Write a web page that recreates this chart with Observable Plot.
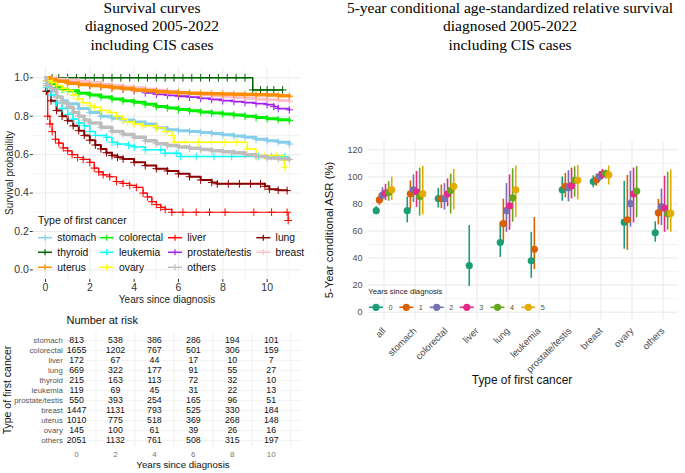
<!DOCTYPE html>
<html><head><meta charset="utf-8">
<script src="https://cdn.jsdelivr.net/npm/d3@7"></script>
<script src="https://cdn.jsdelivr.net/npm/@observablehq/plot@0.6"></script>
<style>
body{margin:0;background:#fff;}
#root{position:relative;width:685px;height:473px;overflow:hidden;background:#fff;font-family:'Liberation Sans',Arial,sans-serif;}
.title{position:absolute;font-family:'Liberation Serif','Times New Roman',serif;font-size:15.5px;line-height:18.4px;text-align:center;color:#000;transform:translateX(-50%);white-space:nowrap;}
</style></head><body><div id="root"></div>
<script>
// ---------------- DATA ----------------
// Left: Kaplan-Meier style survival curves, [years, survival probability]
const stomachCurve = [[0,1],[0.05,0.97],[0.25,0.93],[0.5,0.9],[0.75,0.88],[1,0.865],[1.5,0.84],[2,0.82],[2.5,0.8],[3,0.79],[3.5,0.78],[4,0.77],[4.5,0.76],[5,0.74],[5.5,0.73],[6,0.725],[6.5,0.72],[7,0.715],[7.5,0.71],[8,0.703],[8.5,0.697],[9,0.69],[9.5,0.68],[10,0.672],[10.5,0.665],[11,0.655]];
const colorectalCurve = [[0,1],[0.05,0.985],[0.25,0.965],[0.5,0.95],[0.75,0.94],[1,0.933],[1.5,0.92],[2,0.91],[2.5,0.9],[3,0.89],[3.5,0.88],[4,0.873],[4.5,0.862],[5,0.85],[5.5,0.843],[6,0.835],[6.5,0.828],[7,0.822],[7.5,0.817],[8,0.812],[8.5,0.806],[9,0.8],[9.5,0.793],[10,0.787],[10.5,0.782],[11,0.778]];
const liverCurve = [[0,1],[0.03,0.93],[0.1,0.8],[0.2,0.76],[0.3,0.72],[0.45,0.68],[0.6,0.66],[0.8,0.635],[1,0.62],[1.2,0.6],[1.45,0.585],[1.7,0.575],[2,0.56],[2.2,0.53],[2.4,0.51],[2.6,0.495],[2.9,0.485],[3.2,0.46],[3.5,0.45],[3.8,0.44],[4.1,0.43],[4.4,0.4],[4.6,0.38],[4.8,0.355],[5,0.34],[5.2,0.325],[5.4,0.315],[5.7,0.3],[6.2,0.3],[6.8,0.3],[7.4,0.3],[8.1,0.3],[9.4,0.3],[10.2,0.3],[10.9,0.3],[10.95,0.257]];
const lungCurve = [[0,1],[0.05,0.93],[0.25,0.88],[0.5,0.83],[0.75,0.8],[1,0.777],[1.25,0.75],[1.5,0.725],[1.75,0.7],[2,0.675],[2.25,0.65],[2.5,0.63],[2.75,0.61],[3,0.595],[3.25,0.586],[3.5,0.577],[4,0.56],[4.5,0.543],[5,0.527],[5.5,0.515],[6,0.5],[6.5,0.485],[7,0.468],[7.5,0.455],[7.75,0.448],[8.25,0.448],[8.75,0.448],[9.25,0.448],[9.7,0.448],[9.9,0.435],[10.1,0.42],[10.5,0.415],[10.9,0.413]];
const thyroidCurve = [[0,1],[0.3,1],[0.6,1],[1,1],[1.4,1],[1.8,1],[2.2,1],[2.6,1],[3,1],[3.4,1],[3.8,1],[4.2,1],[4.6,1],[5,1],[5.4,1],[5.8,1],[6.2,1],[6.6,1],[7,1],[7.4,1],[7.8,1],[8.2,1],[8.6,1],[9,1],[9.35,0.937],[9.7,0.937],[10,0.937],[10.3,0.937],[10.7,0.937]];
const leukemiaCurve = [[0,1],[0.05,0.95],[0.25,0.91],[0.5,0.87],[0.75,0.84],[1,0.81],[1.25,0.785],[1.5,0.765],[1.75,0.75],[2,0.72],[2.25,0.7],[2.75,0.69],[3,0.665],[3.25,0.655],[3.75,0.648],[4,0.64],[4.5,0.625],[5.2,0.625],[5.4,0.607],[5.9,0.607],[6.1,0.59],[6.8,0.59],[7.6,0.59],[8.4,0.59],[9.6,0.59],[10.2,0.59],[10.8,0.59]];
const prostateCurve = [[0,1],[0.5,0.988],[1,0.976],[1.5,0.968],[2,0.961],[2.5,0.955],[3,0.948],[3.5,0.941],[4,0.933],[4.5,0.922],[5,0.914],[5.5,0.909],[6,0.904],[6.5,0.899],[7,0.893],[7.5,0.887],[8,0.881],[8.5,0.876],[9,0.871],[9.5,0.866],[10,0.86],[10.3,0.85],[10.5,0.84],[11,0.833]];
const breastCurve = [[0,1],[0.5,0.993],[1,0.988],[1.5,0.982],[2,0.975],[2.5,0.967],[3,0.96],[3.5,0.954],[4,0.948],[4.5,0.941],[5,0.935],[5.5,0.929],[6,0.923],[6.5,0.917],[7,0.912],[7.5,0.907],[8,0.902],[8.5,0.897],[9,0.893],[9.5,0.889],[10,0.886],[10.5,0.882],[11,0.878]];
const uterusCurve = [[0,1],[0.25,0.99],[0.5,0.982],[1,0.972],[1.5,0.965],[2,0.96],[2.5,0.955],[3,0.948],[3.5,0.943],[4,0.937],[4.5,0.932],[5,0.928],[5.5,0.925],[6,0.922],[6.5,0.92],[7,0.918],[7.5,0.917],[8,0.916],[8.5,0.915],[9,0.913],[9.5,0.912],[10,0.91],[10.5,0.907],[11,0.904]];
const ovaryCurve = [[0,1],[0.1,0.985],[0.3,0.975],[0.5,0.96],[0.75,0.945],[1,0.934],[1.25,0.91],[1.45,0.89],[1.7,0.87],[2,0.855],[2.2,0.847],[2.5,0.83],[2.9,0.82],[3.2,0.8],[3.5,0.785],[3.7,0.77],[4,0.76],[4.4,0.75],[5,0.74],[5.4,0.72],[5.7,0.7],[5.8,0.665],[6.3,0.665],[6.9,0.665],[7.5,0.665],[8.1,0.665],[8.6,0.665],[9.1,0.63],[9.5,0.595],[9.9,0.595],[10.4,0.595],[10.75,0.57],[10.8,0.534]];
const othersCurve = [[0,1],[0.05,0.96],[0.25,0.94],[0.5,0.9],[0.75,0.87],[1,0.847],[1.25,0.82],[1.5,0.8],[1.75,0.78],[2,0.765],[2.5,0.743],[3,0.72],[3.5,0.705],[4,0.69],[4.5,0.672],[5,0.657],[5.5,0.647],[6,0.64],[6.5,0.633],[7,0.627],[7.5,0.62],[8,0.615],[8.5,0.61],[9,0.6],[9.5,0.59],[10,0.583],[10.5,0.578],[11,0.575]];

const cancerNames = ["stomach","colorectal","liver","lung","thyroid","leukemia","prostate/testis","breast","uterus","ovary","others"];
const cancerCurves = [stomachCurve,colorectalCurve,liverCurve,lungCurve,thyroidCurve,leukemiaCurve,prostateCurve,breastCurve,uterusCurve,ovaryCurve,othersCurve];
const cancerColors = ["#87CEEB","#00EE00","#FF0000","#8B0000","#006400","#00FFFF","#A020F0","#FFC0CB","#FF8C00","#FFFF00","#BEBEBE"];
const survXTicks = [0,2,4,6,8,10];
const survYTicks = [0,0.2,0.4,0.6,0.8,1.0];

// Number at risk table
const riskTimes = [0,2,4,6,8,10];
const riskCounts = [
  [813,538,386,286,194,101],
  [1655,1202,767,501,306,159],
  [172,67,44,17,10,7],
  [669,322,177,91,55,27],
  [215,163,113,72,32,10],
  [119,69,45,31,22,13],
  [550,393,254,165,96,51],
  [1447,1131,793,525,330,184],
  [1010,775,518,369,268,148],
  [145,100,61,39,26,16],
  [2051,1132,761,508,315,197]
];

// Right: 5-year conditional ASR (%) by years since diagnosis (rows 0..5) and category (cols)
const asrCategories = ["all","stomach","colorectal","liver","lung","leukemia","prostate/testis","breast","ovary","others"];
const asrYears = [0,1,2,3,4,5];
const asrEst = [
  [75, 75, 84, 34.5, 51.5, 38, 90.5, 96.5, 66.5, 58.7],
  [83, 87.5, 84, null, 65.5, 46.5, 93, 97.8, 68.3, 73.5],
  [86.5, 90.5, 84, null, 75, null, 92, 100.2, 80.2, 78],
  [88, 89, 87.5, null, 78.5, null, 93.5, 102, 87.5, 77],
  [88.5, 85.5, 90, null, 84.5, null, 97.5, 102.5, 89.5, 72.7],
  [90.5, 87.5, 93, null, 90.5, null, 97.5, 101.5, null, 73]
];
const asrLow = [
  [72, 66, 77, 19, 40.5, 25, 82, 92, 46.5, 51.7],
  [79, 76, 76.5, null, 51.5, 31.5, 84.5, 93, 45.7, 64.5],
  [82, 81, 75.5, null, 59, null, 81.5, 96, 62.8, 64],
  [82.5, 77.5, 78, null, 60.5, null, 83.8, 98, 66, 59],
  [82, 71, 72.5, null, 66.5, null, 85, 98.5, 69.7, 60.6],
  [82.5, 72, 75.5, null, 70, null, 83, 94, null, 59]
];
const asrHigh = [
  [78, 85, 91.5, 64, 66.5, 59, 100, 100.8, 96.7, 66.8],
  [87, 97, 94, null, 83.5, 70, 102.5, 102, 101, 83.3],
  [92, 101.5, 95, null, 95, null, 104.5, 104, 104.2, 91],
  [94.5, 104, 98.5, null, 101.5, null, 106.4, 105.5, 106.5, 100.5],
  [96.5, 106.5, 102, null, 106, null, 107.5, 105, 107.7, 103.4],
  [99.8, 107.8, 105.5, null, 108, null, 108.5, 108, null, 105.2]
];
const asrYTicks = [0,20,40,60,80,100,120];
const asrYMinor = [10,30,50,70,90,110];
const dark2 = ["#1B9E77","#D95F02","#7570B3","#E7298A","#66A61E","#E6AB02"];

// ---------------- HELPERS ----------------
const root = document.getElementById("root");
const FONT = "'Liberation Sans', Arial, sans-serif";
function put(node, left, top) {
  node.style.position = "absolute"; node.style.left = left + "px"; node.style.top = top + "px";
  root.appendChild(node);
}
function txt(s, x, y, {size=10, color="#222", rot=0, anchor="middle"} = {}) {
  const d = document.createElement("div");
  d.textContent = s;
  d.style.position = "absolute";
  d.style.left = x + "px"; d.style.top = y + "px";
  d.style.fontSize = size + "px"; d.style.color = color;
  d.style.whiteSpace = "nowrap"; d.style.lineHeight = "1";
  d.style.fontFamily = FONT;
  const tx = anchor === "start" ? "0" : anchor === "end" ? "-100%" : "-50%";
  d.style.transform = `translate(${tx},-50%)` + (rot ? ` rotate(${rot}deg)` : "");
  root.appendChild(d);
}
function title(lines, cx) {
  const d = document.createElement("div");
  d.className = "title";
  d.innerHTML = lines.join("<br>");
  d.style.left = cx + "px"; d.style.top = "-1px";
  root.appendChild(d);
}

// ---------------- TITLES ----------------
title(["Survival curves","diagnosed 2005-2022","including CIS cases"], 152);
title(["5-year conditional age-standardized relative survival","diagnosed 2005-2022","including CIS cases"], 510);

// ---------------- LEFT: SURVIVAL CURVES ----------------
const survRows = cancerNames.flatMap((name, i) => cancerCurves[i].map(([t, s]) => ({cancer: name, t, s})));
const lineW = {"stomach":3,"colorectal":3,"liver":1.2,"lung":2,"thyroid":1.5,"leukemia":1.5,"prostate/testis":1.8,"breast":3,"uterus":3.5,"ovary":1.5,"others":3.5};
const survMarks = [
  Plot.ruleX([1,3,5,7,9,11], {stroke:"#ebebeb", strokeWidth:0.6}),
  Plot.ruleX(survXTicks, {stroke:"#ebebeb", strokeWidth:1}),
  Plot.ruleY([0.1,0.3,0.5,0.7,0.9], {stroke:"#ebebeb", strokeWidth:0.6}),
  Plot.ruleY(survYTicks, {stroke:"#ebebeb", strokeWidth:1}),
];
for (const name of cancerNames) {
  const rows = survRows.filter(d => d.cancer === name);
  survMarks.push(Plot.line(rows, {x:"t", y:"s", stroke:"cancer", curve:"step-after", strokeWidth: lineW[name]}));
  survMarks.push(Plot.dot(rows.slice(1), {x:"t", y:"s", stroke:"cancer", symbol:"plus", r:2.6, strokeWidth:1}));
}
survMarks.push(Plot.axisX(survXTicks, {tickSize:3, tickPadding:1.5, fontSize:10.5, color:"#333", label:null}));
survMarks.push(Plot.axisY(survYTicks, {tickSize:3, tickPadding:1.5, fontSize:10.5, color:"#333", label:null, tickFormat: d3.format(".1f")}));
const surv = Plot.plot({
  width: 335, height: 250,
  marginLeft: 32.8, marginRight: 34, marginTop: 7.7, marginBottom: 31,
  x: {domain: [-0.55, 11.55]},
  y: {domain: [-0.05, 1.05]},
  color: {domain: cancerNames, range: cancerColors},
  style: {fontFamily: FONT, background: "transparent", overflow: "visible"},
  marks: survMarks
});
put(surv, 0, 60);
txt("Survival probability", 10, 173.4, {size:10, rot:-90});
txt("Years since diagnosis", 167, 300, {size:10});

// ---------------- LEFT: NUMBER AT RISK ----------------
const riskRows = cancerNames.flatMap((name, i) => riskTimes.map((t, j) => ({cancer: name, t, n: riskCounts[i][j]})));
const risk = Plot.plot({
  width: 335, height: 168,
  marginLeft: 65.3, marginRight: 34.1, marginTop: 27.1, marginBottom: 26.1,
  x: {domain: [-0.55, 11.55]},
  y: {type: "point", domain: cancerNames, padding: 0.5},
  style: {fontFamily: FONT, background: "transparent", overflow: "visible"},
  marks: [
    Plot.ruleX([1,3,5,7,9,11], {stroke:"#ebebeb", strokeWidth:0.8}),
    Plot.ruleY(cancerNames, {y: d => d, stroke:"#f0f0f0", strokeWidth:0.8}),
    Plot.text(riskRows, {x:"t", y:"cancer", text: d => String(d.n), fontSize:8.8, fill:"#111"}),
    Plot.axisY(cancerNames, {tickSize:0, tickPadding:3, fontSize:7.8, color:"#555", label:null}),
    Plot.axisX(riskTimes, {tickSize:0, tickPadding:4, fontSize:8, color:"#777", label:null})
  ]
});
put(risk, 0, 305);
txt("Number at risk", 66.5, 320, {size:11, anchor:"start", color:"#111"});
txt("Years since diagnosis", 183, 464.5, {size:9.7, color:"#111"});
txt("Type of first cancer", 7, 389.5, {size:10.5, rot:-90, color:"#111"});

// ---------------- RIGHT: CONDITIONAL ASR ----------------
const asrRows = asrYears.flatMap((yr, i) => asrCategories.map((cat, j) => ({
  cat, year: yr, est: asrEst[i][j], lo: asrLow[i][j], hi: asrHigh[i][j]
}))).filter(d => d.est != null);
const asrRowsOrdered = asrCategories.flatMap(cat => asrRows.filter(d => d.cat === cat));
const asr = Plot.plot({
  width: 365, height: 343,
  marginLeft: 41, marginRight: 1, marginTop: 11.2, marginBottom: 153.2,
  fx: {domain: asrCategories, paddingInner: 0, paddingOuter: 0.1, label: null},
  x: {domain: [-2.5, 7.5], axis: null},
  y: {domain: [-6, 126]},
  color: {type: "ordinal", domain: asrYears, range: dark2},
  style: {fontFamily: FONT, background: "transparent", overflow: "visible"},
  marks: [
    Plot.ruleY(asrYMinor, {stroke:"#ebebeb", strokeWidth:0.6}),
    Plot.ruleY(asrYTicks, {stroke:"#ebebeb", strokeWidth:1.1}),
    Plot.ruleX([2.5], {stroke:"#ebebeb", strokeWidth:1.1}),
    Plot.ruleX(asrRowsOrdered, {fx:"cat", x:"year", y1:"lo", y2:"hi", stroke:"year", strokeWidth:1.6}),
    Plot.dot(asrRowsOrdered, {fx:"cat", x:"year", y:"est", fill:"year", r:3.6}),
    Plot.axisY(asrYTicks, {tickSize:0, tickPadding:6, fontSize:9, color:"#4d4d4d", label:null}),
    Plot.axisFx({anchor:"bottom", tickRotate:-45, tickSize:0, tickPadding:9, fontSize:9.5, color:"#4d4d4d", label:null})
  ]
});
put(asr, 320, 130);
txt("5-Year conditional ASR (%)", 330, 230, {size:11.3, rot:-90, color:"#111"});
txt("Type of first cancer", 522, 381, {size:11.9, color:"#111"});

// ---------------- LEGENDS (overlay) ----------------
const ov = d3.create("svg").attr("width", 685).attr("height", 473)
  .style("position","absolute").style("left","0px").style("top","0px").style("pointer-events","none")
  .style("font-family", FONT);
// left legend
ov.append("text").attr("x", 38).attr("y", 220.7).attr("dy","0.35em").attr("font-size", 10.5).attr("fill","#111").text("Type of first cancer");
const keyX = [45, 106.7, 175, 263.3], rowY = [237.7, 252.3, 267.3];
cancerNames.forEach((name, i) => {
  const cx = keyX[i % 4], cy = rowY[Math.floor(i / 4)], col = cancerColors[i];
  ov.append("line").attr("x1", cx - 7).attr("x2", cx + 7).attr("y1", cy).attr("y2", cy).attr("stroke", col).attr("stroke-width", 1.5);
  ov.append("line").attr("x1", cx).attr("x2", cx).attr("y1", cy - 3).attr("y2", cy + 3).attr("stroke", col).attr("stroke-width", 1.2);
  ov.append("text").attr("x", cx + 12.3).attr("y", cy).attr("dy","0.35em").attr("font-size", 10.3).attr("fill","#111").text(name);
});
// right legend
ov.append("text").attr("x", 368.3).attr("y", 291.7).attr("dy","0.35em").attr("font-size", 7.7).attr("fill","#222").text("Years since diagnosis");
const rkX = [376, 406.3, 436.7, 466.8, 497.5, 528.3];
asrYears.forEach((yr, i) => {
  const cx = rkX[i], cy = 307.3;
  ov.append("line").attr("x1", cx - 7).attr("x2", cx + 7).attr("y1", cy).attr("y2", cy).attr("stroke", dark2[i]).attr("stroke-width", 1.6);
  ov.append("circle").attr("cx", cx).attr("cy", cy).attr("r", 3.6).attr("fill", dark2[i]);
  ov.append("text").attr("x", cx + 12.5).attr("y", cy).attr("dy","0.35em").attr("font-size", 7.2).attr("fill","#4d4d4d").text(String(yr));
});
root.appendChild(ov.node());
</script></body></html>
